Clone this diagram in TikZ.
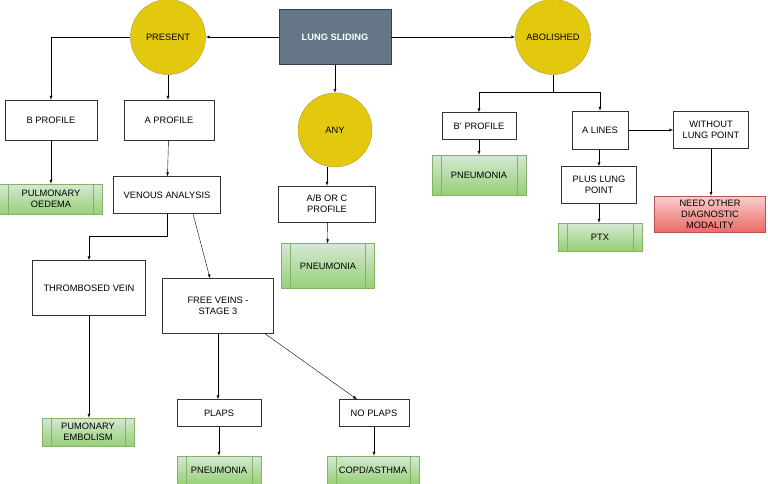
\documentclass[tikz,border=0pt]{standalone}
\usepackage{fontspec}
\setmainfont{Liberation Sans}
\definecolor{gline}{RGB}{130,179,102}
\definecolor{gtop}{RGB}{213,232,212}
\definecolor{gbot}{RGB}{151,208,119}
\definecolor{rline}{RGB}{184,84,80}
\definecolor{rtop}{RGB}{248,206,204}
\definecolor{rbot}{RGB}{234,107,102}
\definecolor{ylw}{RGB}{227,201,14}
\definecolor{ylwd}{RGB}{184,150,46}
\definecolor{slate}{RGB}{100,118,135}
\definecolor{slated}{RGB}{49,65,82}
\begin{document}
\begin{tikzpicture}[x=1pt,y=-1pt,font=\fontsize{9.3}{11}\selectfont,
  box/.style={draw=black!80,fill=white,minimum width=#1,minimum height=28,align=center,inner sep=1pt},
  box/.default=80,
  circ/.style={circle,draw=ylwd,fill=ylw,minimum size=75,align=center},
  green/.style={draw=gline,top color=gtop,bottom color=gbot,minimum width=#1,minimum height=28,align=center,inner sep=1pt,
    path picture={\draw[gline] ([xshift=9]path picture bounding box.north west)--([xshift=9]path picture bounding box.south west) ([xshift=-9]path picture bounding box.north east)--([xshift=-9]path picture bounding box.south east);}},
  green/.default=84,
  red/.style={draw=rline,top color=rtop,bottom color=rbot,minimum width=111,minimum height=36,align=center,inner sep=1pt},
  arr/.style={->,>=latex,draw=black}]
\useasboundingbox (0,0) rectangle (768,484);
\node[draw=slated,fill=slate,text=white,font=\fontsize{9.3}{11}\selectfont\bfseries,minimum width=112,minimum height=55] (ls) at (335,37) {LUNG SLIDING};
\node[circ] (pres) at (168,37) {PRESENT};
\node[circ] (abol) at (553,37) {ABOLISHED};
\node[circ,minimum size=74] (any) at (335,130) {ANY};
\node[box=92,minimum height=40] (bp) at (51,120) {B PROFILE};
\node[box=90,minimum height=40] (ap) at (169,120) {A PROFILE};
\node[green=103,minimum height=30] (po) at (51,199) {PULMONARY\\OEDEMA};
\node[box=107,minimum height=37] (va) at (167,195) {VENOUS ANALYSIS};
\node[box=113,minimum height=55] (tv) at (89,288) {THROMBOSED VEIN};
\node[box=111,minimum height=55] (fv) at (218,306) {FREE VEINS -\\STAGE 3};
\node[green=92] (pe) at (88,432) {PUMONARY\\EMBOLISM};
\node[box=84,minimum height=27] (pl) at (219,413) {PLAPS};
\node[box=70,minimum height=27] (np) at (374,413) {NO PLAPS};
\node[green=84] (pn1) at (219,470) {PNEUMONIA};
\node[green=92] (copd) at (373,470) {COPD/ASTHMA};
\node[box=97,minimum height=36] (abc) at (327,204) {A/B OR C\\PROFILE};
\node[green=93,minimum height=45] (pn2) at (328,266) {PNEUMONIA};
\node[box=74,minimum height=27] (bpp) at (479,126) {B' PROFILE};
\node[green=94,minimum height=40] (pn3) at (479,175) {PNEUMONIA};
\node[box=56,minimum height=38] (al) at (600,130) {A LINES};
\node[box=75,minimum height=37] (wl) at (711,130) {WITHOUT\\LUNG POINT};
\node[box=75,minimum height=37] (plp) at (599,185) {PLUS LUNG\\POINT};
\node[green=84] (ptx) at (600,237) {PTX};
\node[red] (need) at (710,214) {NEED OTHER\\DIAGNOSTIC\\MODALITY};
\draw[arr] (ls) -- (pres);
\draw[arr] (ls) -- (abol);
\draw[arr] (ls.south) -- (any);
\draw[arr] (pres.west) -| (bp.north);
\draw[arr] (pres.south) -- (ap.north -| pres.south);
\draw[arr] (abol.south) -- ++(0,18) -| (bpp.north);
\draw[arr] (abol.south) ++(0,18) -| (al.north);
\draw[arr] (bp) -- (po);
\draw[arr] (ap) -- (va);
\draw[arr] (va.south) -- ++(0,22) -| (tv.north);
\draw[arr] ([xshift=26]va.south) -- ([xshift=-8]fv.north);
\draw[arr] (tv) -- (pe.north -| tv.south);
\draw[arr] (fv.south) -- (pl.north -| fv.south);
\draw[arr] ([xshift=47]fv.south) -- ([xshift=-17]np.north);
\draw[arr] (pl) -- (pn1);
\draw[arr] (np) -- (copd.north -| np.south);
\draw[arr] (any.south -| abc.north) -- (abc.north);
\draw[arr] (abc) -- (pn2);
\draw[arr] (bpp) -- (pn3);
\draw[arr] (al) -- (wl);
\draw[arr] (al.south -| plp.north) -- (plp.north);
\draw[arr] (plp) -- (ptx.north -| plp.south);
\draw[arr] (wl) -- (need.north -| wl.south);
\end{tikzpicture}
\end{document}
